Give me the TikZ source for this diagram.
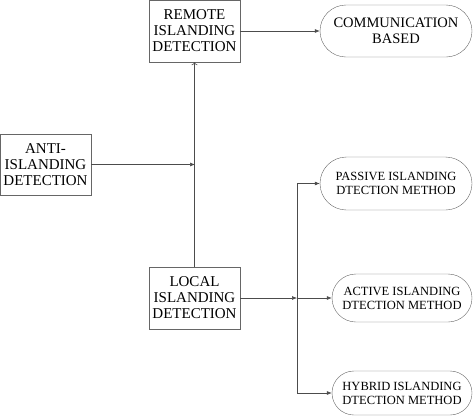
\documentclass[tikz,border=0pt]{standalone}
\usepackage{fontspec}
\setmainfont{Liberation Serif}
\usetikzlibrary{shapes.misc,arrows.meta}
\tikzset{
    block/.style={draw=black!60, rectangle, minimum width=91pt, minimum height=62pt,
        inner sep=0pt, align=center, font=\fontsize{15}{16}\selectfont},
    method/.style={draw=black!60, rounded rectangle, minimum width=140pt, minimum height=48pt,
        inner sep=0pt, align=center, font=\fontsize{12.5}{14}\selectfont},
    link/.style={draw=black!70, line width=0.6pt},
    tip/.style={-{Latex[length=5pt,width=4pt]}}
}
\begin{document}
\begin{tikzpicture}[x=1pt,y=1pt]
    \useasboundingbox (0,0) rectangle (474,-418);

    \node[block, minimum height=61pt] (anti)   at (45.5,-164.5) {ANTI-\\ISLANDING\\DETECTION};
    \node[block]                      (remote) at (194.5,-31)   {REMOTE\\ISLANDING\\DETECTION};
    \node[block]                      (local)  at (194.5,-298)  {LOCAL\\ISLANDING\\DETECTION};

    \node[method, minimum width=152pt, minimum height=52pt, font=\fontsize{14.5}{16}\selectfont]
                                      (comm)    at (396,-31)    {COMMUNICATION\\BASED};
    \node[method, minimum width=152pt, minimum height=53pt]
                                      (passive) at (396,-183.5) {PASSIVE ISLANDING\\DTECTION METHOD};
    \node[method]                     (active)  at (402,-298)   {ACTIVE ISLANDING\\DTECTION METHOD};
    \node[method, minimum height=44pt] (hybrid) at (402,-393)   {HYBRID ISLANDING\\DTECTION METHOD};

    \coordinate (upjoin)   at (195,-164.5);
    \coordinate (downjoin) at (297,-298);

    % remote branch
    \draw[link, -{To[length=3pt,width=6pt]}] (local.north) -- (remote.south);
    \draw[link, tip] (anti.east) -- (upjoin);
    \draw[link, tip] (remote.east) -- (comm.west);

    % local branch
    \draw[link, tip] (local.east) -- (downjoin);
    \draw[link, tip] (downjoin) |- (passive.west);
    \draw[link, tip] (downjoin) -- (active.west);
    \draw[link, tip] (downjoin) |- (hybrid.west);
\end{tikzpicture}
\end{document}
